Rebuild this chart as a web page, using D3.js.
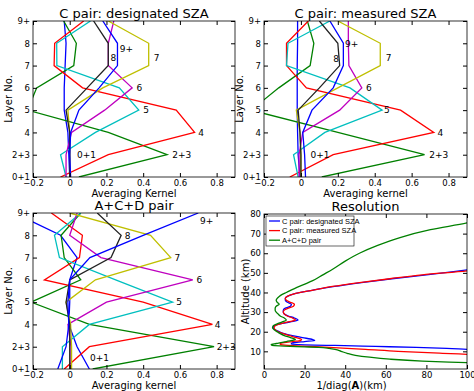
<!DOCTYPE html>
<html><head><meta charset="utf-8">
<script src="https://cdn.jsdelivr.net/npm/d3@7"></script>
<style>body{margin:0;background:#fff}svg{display:block;font-family:"DejaVu Sans",sans-serif}</style>
</head><body><svg id="c" width="474" height="391"></svg>
<script>
// ---------- data ----------
const layerLabels = ["0+1", "2+3", "4", "5", "6", "7", "8", "9+"];
const kernelTicks = [-0.2, 0, 0.2, 0.4, 0.6, 0.8];
const altTicks = [10, 20, 30, 40, 50, 60, 70, 80];
const resTicks = [0, 20, 40, 60, 80, 100];
const kernelColors = ["#0000ff", "#008000", "#ff0000", "#00bfbf", "#bf00bf", "#bfbf00", "#222222", "#0000ff"];

// rows: retrieved layer (0+1 ... 9+), values at layer positions 0+1 ... 9+
const akDesignated = [
  [0.0, -0.005, -0.01, -0.03, -0.03, -0.025, -0.02, -0.03],
  [0.05, 0.53, 0.21, -0.23, -0.18, 0.022, 0.036, -0.033],
  [-0.05, 0.21, 0.68, 0.58, 0.07, -0.085, -0.082, 0.076],
  [-0.02, -0.05, 0.14, 0.376, 0.27, -0.07, -0.071, 0.113],
  [-0.02, -0.02, 0.01, 0.19, 0.34, 0.21, 0.21, 0.24],
  [0.0, 0.0, 0.0, -0.01, 0.18, 0.43, 0.43, 0.21],
  [0.0, 0.0, 0.0, -0.02, 0.095, 0.21, 0.21, 0.13],
  [0.005, 0.0, 0.005, 0.05, 0.16, 0.26, 0.26, 0.18]
];
const akMeasured = [
  [-0.005, -0.015, -0.018, -0.02, -0.02, -0.02, -0.018, -0.018],
  [0.113, 0.67, 0.2, -0.27, -0.12, 0.05, 0.07, 0.035],
  [-0.06, 0.175, 0.72, 0.54, 0.03, -0.078, -0.078, 0.04],
  [-0.015, -0.04, 0.13, 0.44, 0.266, -0.078, -0.07, 0.157],
  [-0.01, -0.01, 0.01, 0.21, 0.33, 0.26, 0.257, 0.257],
  [0.0, 0.0, -0.005, -0.025, 0.2, 0.43, 0.43, 0.2],
  [0.0, 0.0, -0.005, -0.015, 0.1, 0.21, 0.2, 0.1],
  [0.025, 0.02, 0.01, 0.06, 0.175, 0.23, 0.23, 0.157]
];
const akACD = [
  [0.107, 0.04, -0.005, 0.0, 0.0, 0.04, -0.05, -0.3],
  [0.125, 0.786, 0.107, -0.21, 0.06, -0.03, -0.047, 0.06],
  [-0.03, 0.107, 0.777, 0.4, -0.138, 0.053, 0.069, -0.10],
  [-0.04, -0.04, 0.107, 0.56, 0.25, -0.056, -0.083, 0.06],
  [0.007, 0.007, -0.01, 0.2, 0.67, 0.17, 0.0, 0.04],
  [0.01, 0.01, 0.005, -0.02, 0.14, 0.55, 0.44, 0.0],
  [0.0, 0.0, 0.0, -0.02, 0.0, 0.225, 0.28, 0.15],
  [-0.065, -0.02, -0.005, -0.01, 0.0, 0.11, 0.40, 0.70]
];
// curve label anchors [kernel value, layer position]
const tagsDesignated = [[0.04, 1], [0.558, 1], [0.70, 2], [0.40, 3], [0.364, 4], [0.458, 5.35], [0.222, 5.35], [0.273, 5.75]];
const tagsMeasured = [[0.052, 1], [0.696, 1], [0.74, 2], [0.45, 3], [0.353, 4], [0.46, 5.35], [0.175, 5.3], [0.239, 6]];
const tagsACD = [[0.11, 0.5], [0.80, 1], [0.79, 2], [0.58, 3], [0.69, 4], [0.57, 5], [0.30, 6], [0.71, 6.65]];

// resolution (km) vs altitude (km)
const resNames = ["C pair: designated SZA", "C pair: measured SZA", "A+C+D pair"];
const resColors = ["#0000ff", "#ff0000", "#008000"];
const altDesignated = [53, 51.5, 49, 47, 45, 44, 43, 42, 41, 40, 39, 38, 37, 36, 35, 34, 33, 32, 31, 30, 29, 28, 27, 26, 25, 24, 23, 22, 21, 20, 19, 18, 17, 16, 15.5, 15, 14.5, 14, 13.6, 13.2, 13, 12.5, 12, 11.5, 11, 10.5];
const resDesignated = [112, 100, 80, 63, 48, 41, 34, 28, 23, 18, 14, 11.5, 10.5, 10.5, 11.5, 13.5, 13, 10.5, 9.5, 9.5, 10, 12, 15, 16.8, 13, 8, 5, 4.5, 5.5, 7.5, 10, 14, 19, 24, 25, 20, 15, 13.5, 13.5, 25, 35, 55, 75, 90, 100, 112];
const altMeasured = [53, 51, 49, 47, 45, 44, 43, 42, 41, 40, 39, 38, 37, 36, 35, 34, 33, 32, 31, 30, 29, 28, 27, 26, 25, 24, 23, 22, 21, 20, 19, 18, 17, 16, 15.5, 15, 14.5, 14, 13.5, 13, 12.5, 12, 11, 10, 9, 8.5, 8];
const resMeasured = [115, 100, 78, 62, 47, 40, 33, 28, 23, 18, 14, 11.5, 10.5, 11, 13, 15, 14.5, 12, 10, 9.5, 10, 11.5, 14, 15.5, 12, 8, 5.5, 5, 5.5, 7, 9.5, 12.5, 16, 18.5, 18, 14, 10, 8, 8, 12, 22, 32, 50, 66, 88, 100, 112];
const altACD = [78, 75.5, 72, 68, 64, 60, 56, 52, 49, 46, 44, 42, 40, 39, 38, 37, 36, 35, 34, 33, 32, 31, 30, 29, 28, 27, 26, 25, 24, 23, 22, 21, 20, 19, 18, 17, 16, 15, 14, 13.5, 13, 12.7, 12.3, 12, 11.5, 11, 10, 9, 8, 7, 6, 5, 4.2, 3.5];
const resACD = [110, 100, 82, 67, 56, 47, 40, 34, 29, 24, 19.5, 15, 11, 9, 7.5, 6.5, 6, 6.5, 7.5, 6, 5.5, 5.5, 6, 7, 8, 10, 11, 9, 6.5, 4.5, 4.2, 5, 6.5, 8, 10, 13, 15.5, 11, 6, 3.5, 4, 10, 20, 27, 32, 35, 38, 41, 45, 52, 62, 78, 100, 118];

// ---------- drawing ----------
const svg = d3.select("#c");
const fmtTick = d => (d < 0 ? "\u2212" : "") + Math.abs(d).toString();
const TICK_FS = 8.5, LABEL_FS = 10, TITLE_FS = 13;

function frame(g, x, y, w, h, id) {
  g.append("clipPath").attr("id", id).append("rect").attr("x", x).attr("y", y).attr("width", w).attr("height", h);
}
function styleAxes(list) {
  list.forEach(a => {
    a.select(".domain").remove();
    a.selectAll("text").attr("font-size", TICK_FS).attr("font-family", "DejaVu Sans").attr("fill", "#000");
    a.selectAll("line").attr("stroke", "#000");
  });
}

function kernelPanel(box, rows, tags, title, xlabel, id) {
  const [x0, x1, y0, y1] = box;
  const xs = d3.scaleLinear().domain([-0.2, 0.9]).range([x0, x1]);
  const ys = d3.scaleLinear().domain([0, 7]).range([y1, y0]);
  const g = svg.append("g");
  frame(g, x0, y0, x1 - x0, y1 - y0, id);
  const line = d3.line().x(d => xs(d[0])).y(d => ys(d[1]));
  const cg = g.append("g").attr("clip-path", `url(#${id})`);
  rows.forEach((r, i) => {
    cg.append("path").attr("d", line(r.map((v, k) => [v, k])))
      .attr("fill", "none").attr("stroke", kernelColors[i]).attr("stroke-width", 1.3);
  });
  tags.forEach((t, i) => {
    g.append("text").attr("x", xs(t[0])).attr("y", ys(t[1])).attr("dy", "0.36em")
      .attr("font-size", 9).attr("fill", "#000").text(layerLabels[i]);
  });
  g.append("rect").attr("x", x0).attr("y", y0).attr("width", x1 - x0).attr("height", y1 - y0)
    .attr("fill", "none").attr("stroke", "#000").attr("stroke-width", 0.8);
  const ax = g.append("g").attr("transform", `translate(0,${y1})`)
    .call(d3.axisBottom(xs).tickValues(kernelTicks).tickFormat(fmtTick).tickSizeInner(-4).tickSizeOuter(0).tickPadding(3));
  const axt = g.append("g").attr("transform", `translate(0,${y0})`)
    .call(d3.axisTop(xs).tickValues(kernelTicks).tickFormat("").tickSizeInner(-4).tickSizeOuter(0));
  const ay = g.append("g").attr("transform", `translate(${x0},0)`)
    .call(d3.axisLeft(ys).tickValues(d3.range(8)).tickFormat(k => layerLabels[k]).tickSizeInner(-4).tickSizeOuter(0).tickPadding(3));
  const ayr = g.append("g").attr("transform", `translate(${x1},0)`)
    .call(d3.axisRight(ys).tickValues(d3.range(8)).tickFormat("").tickSizeInner(-4).tickSizeOuter(0));
  styleAxes([ax, axt, ay, ayr]);
  g.append("text").attr("x", (x0 + x1) / 2).attr("y", y0 - 3).attr("text-anchor", "middle")
    .attr("font-size", TITLE_FS).text(title);
  g.append("text").attr("x", (x0 + x1) / 2).attr("y", y1 + 20).attr("text-anchor", "middle")
    .attr("font-size", LABEL_FS).text(xlabel);
  g.append("text").attr("transform", `translate(${x0 - 21},${(y0 + y1) / 2}) rotate(-90)`)
    .attr("text-anchor", "middle").attr("font-size", LABEL_FS).text("Layer No.");
}

kernelPanel([33, 235, 21, 177], akDesignated, tagsDesignated, "C pair: designated SZA", "Averaging Kernel", "cp1");
kernelPanel([264, 467, 21, 177], akMeasured, tagsMeasured, "C pair: measured SZA", "Averaging kernel", "cp2");
kernelPanel([33, 235, 213, 369], akACD, tagsACD, "A+C+D pair", "Averaging kernel", "cp3");

// resolution panel
(function () {
  const [x0, x1, y0, y1] = [264, 467, 214, 369];
  const xs = d3.scaleLinear().domain([0, 100]).range([x0, x1]);
  const ys = d3.scaleLinear().domain([1, 80]).range([y1, y0]);
  const g = svg.append("g");
  frame(g, x0, y0, x1 - x0, y1 - y0, "cp4");
  const line = d3.line().x(d => xs(d[0])).y(d => ys(d[1])).curve(d3.curveMonotoneY);
  const cg = g.append("g").attr("clip-path", "url(#cp4)");
  const series = [[resDesignated, altDesignated], [resMeasured, altMeasured], [resACD, altACD]];
  series.forEach((s, i) => {
    cg.append("path").attr("d", line(s[0].map((v, k) => [v, s[1][k]])))
      .attr("fill", "none").attr("stroke", resColors[i]).attr("stroke-width", 1.3);
  });
  g.append("rect").attr("x", x0).attr("y", y0).attr("width", x1 - x0).attr("height", y1 - y0)
    .attr("fill", "none").attr("stroke", "#000").attr("stroke-width", 0.8);
  const ax = g.append("g").attr("transform", `translate(0,${y1})`)
    .call(d3.axisBottom(xs).tickValues(resTicks).tickSizeInner(-4).tickSizeOuter(0).tickPadding(3));
  const axt = g.append("g").attr("transform", `translate(0,${y0})`)
    .call(d3.axisTop(xs).tickValues(resTicks).tickFormat("").tickSizeInner(-4).tickSizeOuter(0));
  const ay = g.append("g").attr("transform", `translate(${x0},0)`)
    .call(d3.axisLeft(ys).tickValues(altTicks).tickSizeInner(-4).tickSizeOuter(0).tickPadding(3));
  const ayr = g.append("g").attr("transform", `translate(${x1},0)`)
    .call(d3.axisRight(ys).tickValues(altTicks).tickFormat("").tickSizeInner(-4).tickSizeOuter(0));
  styleAxes([ax, axt, ay, ayr]);
  const lg = g.append("g");
  lg.append("rect").attr("x", x0 + 2).attr("y", y0 + 2).attr("width", 88).attr("height", 30)
    .attr("fill", "#fff").attr("stroke", "#000").attr("stroke-width", 0.6);
  resNames.forEach((n, i) => {
    const yy = y0 + 7 + i * 9.6;
    lg.append("line").attr("x1", x0 + 5).attr("x2", x0 + 16).attr("y1", yy).attr("y2", yy)
      .attr("stroke", resColors[i]).attr("stroke-width", 1.3);
    lg.append("text").attr("x", x0 + 18).attr("y", yy).attr("dy", "0.35em").attr("font-size", 7.5)
      .attr("font-family", "Liberation Sans").text(n);
  });
  g.append("text").attr("x", (x0 + x1) / 2).attr("y", y0 - 3).attr("text-anchor", "middle")
    .attr("font-size", TITLE_FS).text("Resolution");
  const xl = g.append("text").attr("x", (x0 + x1) / 2 - 14).attr("y", y1 + 20).attr("text-anchor", "middle")
    .attr("font-size", LABEL_FS);
  xl.append("tspan").text("1/diag(");
  xl.append("tspan").attr("font-weight", "bold").text("A");
  xl.append("tspan").text(")(km)");
  g.append("text").attr("transform", `translate(${x0 - 15},${(y0 + y1) / 2}) rotate(-90)`)
    .attr("text-anchor", "middle").attr("font-size", LABEL_FS).text("Altitude (km)");
})();
</script></body></html>
